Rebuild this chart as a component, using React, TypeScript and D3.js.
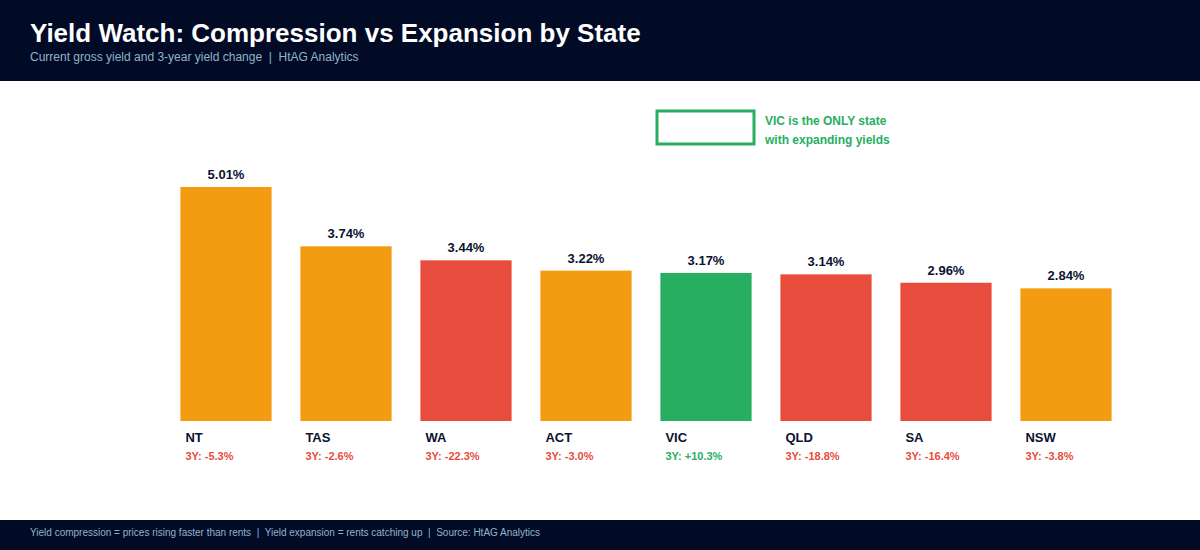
import { useRef, useEffect } from "react";
import * as d3 from "d3";

const states = ["NT", "TAS", "WA", "ACT", "VIC", "QLD", "SA", "NSW"];
const grossYield = [5.01, 3.74, 3.44, 3.22, 3.17, 3.14, 2.96, 2.84];
const change3y = [-5.3, -2.6, -22.3, -3.0, 10.3, -18.8, -16.4, -3.8];
// bar colour groups as shown: mild compression, strong compression, expansion
const barGroup = ["mild", "mild", "strong", "mild", "expand", "strong", "strong", "mild"];

const W = 1200;
const H = 550;

export default function App() {
  const svgRef = useRef<SVGSVGElement>(null);

  useEffect(() => {
    if (!svgRef.current) return;
    const svg = d3.select(svgRef.current);
    svg.selectAll("*").remove();
    svg.attr("width", W).attr("height", H).style("font-family", "'Liberation Sans', Arial, sans-serif");

    svg.append("rect").attr("width", W).attr("height", H).attr("fill", "#ffffff");

    // Header
    svg.append("rect").attr("width", W).attr("height", 81).attr("fill", "#020b26");
    svg.append("text").attr("x", 30).attr("y", 42).attr("fill", "#ffffff")
      .attr("font-size", 26).attr("font-weight", "bold")
      .text("Yield Watch: Compression vs Expansion by State");
    svg.append("text").attr("x", 30).attr("y", 61).attr("fill", "#8fb3cc")
      .attr("font-size", 12).style("white-space", "pre")
      .text("Current gross yield and 3-year yield change  |  HtAG Analytics");

    // Footer
    svg.append("rect").attr("y", 520).attr("width", W).attr("height", 30).attr("fill", "#020b26");
    svg.append("text").attr("x", 30).attr("y", 536).attr("fill", "#8fb3cc")
      .attr("font-size", 10).style("white-space", "pre")
      .text("Yield compression = prices rising faster than rents  |  Yield expansion = rents catching up  |  Source: HtAG Analytics");

    const color = d3.scaleOrdinal<string, string>()
      .domain(["mild", "strong", "expand"])
      .range(["#f39c12", "#e74c3c", "#27ae60"]);

    const x = d3.scaleBand<string>()
      .domain(states)
      .range([166, 1126])
      .paddingInner(0.24)
      .paddingOuter(0.12);

    const y = d3.scaleLinear()
      .domain([0, d3.max(grossYield) ?? 0])
      .range([421, 187]);

    const rows = states.map((s, i) => ({ s, v: grossYield[i], c: change3y[i], g: barGroup[i] }));

    const g = svg.append("g");

    g.selectAll("rect.bar")
      .data(rows)
      .join("rect")
      .attr("class", "bar")
      .attr("x", (d) => x(d.s)!)
      .attr("y", (d) => y(d.v))
      .attr("width", x.bandwidth())
      .attr("height", (d) => y(0) - y(d.v))
      .attr("fill", (d) => color(d.g));

    // Value labels
    g.selectAll("text.val")
      .data(rows)
      .join("text")
      .attr("class", "val")
      .attr("x", (d) => x(d.s)! + x.bandwidth() / 2)
      .attr("y", (d) => y(d.v) - 8)
      .attr("text-anchor", "middle")
      .attr("font-size", 13)
      .attr("font-weight", "bold")
      .attr("fill", "#0d1230")
      .text((d) => `${d.v.toFixed(2)}%`);

    // State names
    g.selectAll("text.state")
      .data(rows)
      .join("text")
      .attr("class", "state")
      .attr("x", (d) => x(d.s)! + 5)
      .attr("y", y(0) + 21)
      .attr("font-size", 13)
      .attr("font-weight", "bold")
      .attr("fill", "#0d1230")
      .text((d) => d.s);

    // 3-year change
    g.selectAll("text.chg")
      .data(rows)
      .join("text")
      .attr("class", "chg")
      .attr("x", (d) => x(d.s)! + 5)
      .attr("y", y(0) + 39)
      .attr("font-size", 11)
      .attr("font-weight", "bold")
      .attr("fill", (d) => (d.c > 0 ? "#27ae60" : "#e74c3c"))
      .text((d) => `3Y: ${d.c > 0 ? "+" : ""}${d.c.toFixed(1)}%`);

    // Annotation
    svg.append("rect").attr("x", 657).attr("y", 111).attr("width", 97).attr("height", 33)
      .attr("fill", "none").attr("stroke", "#27ae60").attr("stroke-width", 3);
    const note = svg.append("text").attr("x", 765).attr("font-size", 12)
      .attr("font-weight", "bold").attr("fill", "#27ae60");
    note.append("tspan").attr("x", 765).attr("y", 125).text("VIC is the ONLY state");
    note.append("tspan").attr("x", 765).attr("y", 144).text("with expanding yields");
  }, []);

  return (
    <div style={{ position: "absolute", left: 0, top: 0 }}>
      <svg ref={svgRef} />
    </div>
  );
}
